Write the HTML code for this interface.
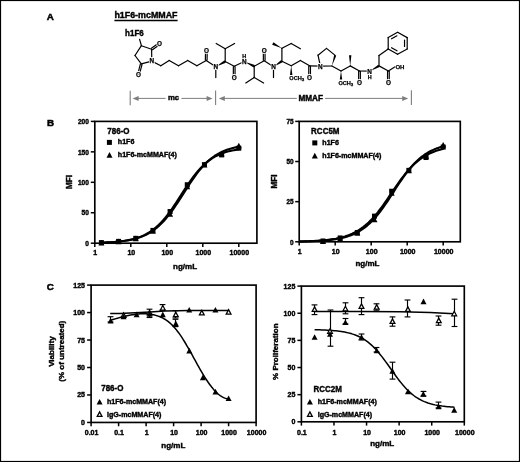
<!DOCTYPE html>
<html><head><meta charset="utf-8"><style>
html,body{margin:0;padding:0;background:#fff;}
svg{display:block;}
text{font-family:'Liberation Sans', Arial, Helvetica, sans-serif;}
</style></head><body>
<svg width="520" height="462" viewBox="0 0 520 462">
<rect x="0.5" y="0.5" width="519" height="461" fill="#fff" stroke="#000" stroke-width="1.2"/>
<text x="46.8" y="19.5" font-size="9.8" text-anchor="start" font-weight="bold" fill="#000" stroke="#000" stroke-width="0.5" >A</text>
<text x="47" y="125.7" font-size="9.8" text-anchor="start" font-weight="bold" fill="#000" stroke="#000" stroke-width="0.5" >B</text>
<text x="46.7" y="289.7" font-size="9.8" text-anchor="start" font-weight="bold" fill="#000" stroke="#000" stroke-width="0.5" >C</text>
<text x="114.4" y="18.2" font-size="8.9" text-anchor="start" font-weight="bold" fill="#000" stroke="#000" stroke-width="0.4" >h1F6-mcMMAF</text>
<line x1="114.4" y1="20.5" x2="177.6" y2="20.5" stroke="#000" stroke-width="1.5" />
<line x1="139.6" y1="39.4" x2="141.4" y2="45.7" stroke="#000" stroke-width="1.2" stroke-linecap="round"/>
<line x1="141.4" y1="45.7" x2="151.6" y2="49.3" stroke="#000" stroke-width="1.2" stroke-linecap="round"/>
<line x1="151.6" y1="49.3" x2="151.8" y2="61.1" stroke="#000" stroke-width="1.2" stroke-linecap="round"/>
<line x1="151.8" y1="61.1" x2="141.3" y2="63.9" stroke="#000" stroke-width="1.2" stroke-linecap="round"/>
<line x1="141.3" y1="63.9" x2="135" y2="55.5" stroke="#000" stroke-width="1.2" stroke-linecap="round"/>
<line x1="135" y1="55.5" x2="141.4" y2="45.7" stroke="#000" stroke-width="1.2" stroke-linecap="round"/>
<line x1="152.1" y1="49.99" x2="160.1" y2="44.19" stroke="#000" stroke-width="1.2" />
<line x1="151.1" y1="48.61" x2="159.1" y2="42.81" stroke="#000" stroke-width="1.2" />
<line x1="140.48" y1="63.69" x2="137.58" y2="74.79" stroke="#000" stroke-width="1.2" />
<line x1="142.12" y1="64.11" x2="139.22" y2="75.21" stroke="#000" stroke-width="1.2" />
<text transform="translate(125.1,35.6) scale(0.94,1)" font-size="8.5" text-anchor="start" font-weight="bold" fill="#000" stroke="#000" stroke-width="0.4" >h1F6</text>
<line x1="151.8" y1="61.1" x2="160.8" y2="65.8" stroke="#000" stroke-width="1.2" stroke-linecap="round"/>
<line x1="160.8" y1="65.8" x2="169.2" y2="60.4" stroke="#000" stroke-width="1.2" stroke-linecap="round"/>
<line x1="169.2" y1="60.4" x2="178.5" y2="65.8" stroke="#000" stroke-width="1.2" stroke-linecap="round"/>
<line x1="178.5" y1="65.8" x2="187.7" y2="60.4" stroke="#000" stroke-width="1.2" stroke-linecap="round"/>
<line x1="187.7" y1="60.4" x2="196.9" y2="65.8" stroke="#000" stroke-width="1.2" stroke-linecap="round"/>
<line x1="196.9" y1="65.8" x2="206.2" y2="60.4" stroke="#000" stroke-width="1.2" stroke-linecap="round"/>
<line x1="207.05" y1="60.42" x2="207.25" y2="50.22" stroke="#000" stroke-width="1.2" />
<line x1="205.35" y1="60.38" x2="205.55" y2="50.18" stroke="#000" stroke-width="1.2" />
<line x1="206.2" y1="60.4" x2="215.8" y2="66.7" stroke="#000" stroke-width="1.2" stroke-linecap="round"/>
<line x1="215.8" y1="66.7" x2="215.8" y2="77.6" stroke="#000" stroke-width="1.2" stroke-linecap="round"/>
<polygon points="215.8,66.7 225.83,62.64 224.57,60.36" fill="#000"/>
<line x1="225.2" y1="61.5" x2="225.2" y2="48.8" stroke="#000" stroke-width="1.2" stroke-linecap="round"/>
<line x1="225.2" y1="48.8" x2="216.2" y2="43.5" stroke="#000" stroke-width="1.2" stroke-linecap="round"/>
<line x1="225.2" y1="48.8" x2="234.6" y2="43.5" stroke="#000" stroke-width="1.2" stroke-linecap="round"/>
<line x1="225.2" y1="61.5" x2="234.2" y2="66.2" stroke="#000" stroke-width="1.2" stroke-linecap="round"/>
<line x1="233.35" y1="66.2" x2="233.35" y2="77.8" stroke="#000" stroke-width="1.2" />
<line x1="235.05" y1="66.2" x2="235.05" y2="77.8" stroke="#000" stroke-width="1.2" />
<line x1="234.2" y1="66.2" x2="244.2" y2="61.5" stroke="#000" stroke-width="1.2" stroke-linecap="round"/>
<polygon points="244.2,61.5 253.65,67.38 254.75,65.02" fill="#000"/>
<line x1="254.2" y1="66.2" x2="254.2" y2="77.5" stroke="#000" stroke-width="1.2" stroke-linecap="round"/>
<line x1="254.2" y1="77.5" x2="245.8" y2="83" stroke="#000" stroke-width="1.2" stroke-linecap="round"/>
<line x1="254.2" y1="77.5" x2="263.6" y2="83" stroke="#000" stroke-width="1.2" stroke-linecap="round"/>
<line x1="254.2" y1="66.2" x2="264.2" y2="60.8" stroke="#000" stroke-width="1.2" stroke-linecap="round"/>
<line x1="265.05" y1="60.8" x2="265.05" y2="50.2" stroke="#000" stroke-width="1.2" />
<line x1="263.35" y1="60.8" x2="263.35" y2="50.2" stroke="#000" stroke-width="1.2" />
<line x1="264.2" y1="60.8" x2="273.5" y2="66.7" stroke="#000" stroke-width="1.2" stroke-linecap="round"/>
<line x1="273.5" y1="66.7" x2="273.5" y2="77.6" stroke="#000" stroke-width="1.2" stroke-linecap="round"/>
<polygon points="273.5,66.7 282.61,62.29 281.19,60.11" fill="#000"/>
<line x1="281.9" y1="61.2" x2="281.9" y2="48.3" stroke="#000" stroke-width="1.2" stroke-linecap="round"/>
<polygon points="281.9,48.3 273.45,42.26 272.15,44.74" fill="#000"/>
<line x1="281.9" y1="48.3" x2="291.2" y2="43.5" stroke="#000" stroke-width="1.2" stroke-linecap="round"/>
<line x1="291.2" y1="43.5" x2="300.4" y2="48.8" stroke="#000" stroke-width="1.2" stroke-linecap="round"/>
<line x1="281.9" y1="61.2" x2="291.2" y2="65.8" stroke="#000" stroke-width="1.2" stroke-linecap="round"/>
<polygon points="291.2,65.8 290,75 292.4,75" fill="#000"/>
<line x1="291.2" y1="65.8" x2="300.4" y2="60.4" stroke="#000" stroke-width="1.2" stroke-linecap="round"/>
<line x1="300.4" y1="60.4" x2="309.6" y2="65.8" stroke="#000" stroke-width="1.2" stroke-linecap="round"/>
<line x1="308.75" y1="65.8" x2="308.75" y2="77.4" stroke="#000" stroke-width="1.2" />
<line x1="310.45" y1="65.8" x2="310.45" y2="77.4" stroke="#000" stroke-width="1.2" />
<line x1="309.6" y1="65.8" x2="320.4" y2="66.2" stroke="#000" stroke-width="1.2" stroke-linecap="round"/>
<line x1="320.4" y1="66.2" x2="318" y2="55.2" stroke="#000" stroke-width="1.2" stroke-linecap="round"/>
<line x1="318" y1="55.2" x2="326.5" y2="48.4" stroke="#000" stroke-width="1.2" stroke-linecap="round"/>
<line x1="326.5" y1="48.4" x2="335.2" y2="55.4" stroke="#000" stroke-width="1.2" stroke-linecap="round"/>
<polygon points="331.9,66 336.25,55.73 334.15,55.07" fill="#000"/>
<line x1="331.9" y1="66" x2="320.4" y2="66.2" stroke="#000" stroke-width="1.2" stroke-linecap="round"/>
<line x1="331.9" y1="66" x2="341" y2="71" stroke="#000" stroke-width="1.2" stroke-linecap="round"/>
<polygon points="341,71 339.8,79.4 342.2,79.4" fill="#000"/>
<line x1="341" y1="71" x2="350.2" y2="65.9" stroke="#000" stroke-width="1.2" stroke-linecap="round"/>
<polygon points="350.2,65.9 351.4,55.2 349,55.2" fill="#000"/>
<line x1="350.2" y1="65.9" x2="359.5" y2="71" stroke="#000" stroke-width="1.2" stroke-linecap="round"/>
<line x1="358.65" y1="71" x2="358.65" y2="83" stroke="#000" stroke-width="1.2" />
<line x1="360.35" y1="71" x2="360.35" y2="83" stroke="#000" stroke-width="1.2" />
<line x1="359.5" y1="71" x2="369.6" y2="71.2" stroke="#000" stroke-width="1.2" stroke-linecap="round"/>
<polygon points="369.6,71.2 379.64,67.03 378.36,64.77" fill="#000"/>
<line x1="379" y1="65.9" x2="379" y2="55.6" stroke="#000" stroke-width="1.2" stroke-linecap="round"/>
<line x1="379" y1="55.6" x2="388.2" y2="48.9" stroke="#000" stroke-width="1.2" stroke-linecap="round"/>
<line x1="388.2" y1="48.9" x2="388.2" y2="37.6" stroke="#000" stroke-width="1.2" stroke-linecap="round"/>
<line x1="388.2" y1="37.6" x2="397.6" y2="32.3" stroke="#000" stroke-width="1.2" stroke-linecap="round"/>
<line x1="397.6" y1="32.3" x2="407.2" y2="37.6" stroke="#000" stroke-width="1.2" stroke-linecap="round"/>
<line x1="407.2" y1="37.6" x2="407.2" y2="48.9" stroke="#000" stroke-width="1.2" stroke-linecap="round"/>
<line x1="407.2" y1="48.9" x2="397.6" y2="54.3" stroke="#000" stroke-width="1.2" stroke-linecap="round"/>
<line x1="397.6" y1="54.3" x2="388.2" y2="48.9" stroke="#000" stroke-width="1.2" stroke-linecap="round"/>
<line x1="391.54" y1="38.81" x2="396.95" y2="35.76" stroke="#000" stroke-width="1.2" stroke-linecap="round"/>
<line x1="404.54" y1="40.01" x2="404.54" y2="46.52" stroke="#000" stroke-width="1.2" stroke-linecap="round"/>
<line x1="396.95" y1="50.83" x2="391.54" y2="47.72" stroke="#000" stroke-width="1.2" stroke-linecap="round"/>
<line x1="379" y1="65.9" x2="388.4" y2="71" stroke="#000" stroke-width="1.2" stroke-linecap="round"/>
<line x1="387.55" y1="71" x2="387.55" y2="83" stroke="#000" stroke-width="1.2" />
<line x1="389.25" y1="71" x2="389.25" y2="83" stroke="#000" stroke-width="1.2" />
<line x1="388.4" y1="71" x2="395.5" y2="66.6" stroke="#000" stroke-width="1.2" stroke-linecap="round"/>
<text x="159.6" y="45.8" font-size="6.4" text-anchor="middle" font-weight="bold" stroke="#fff" stroke-width="1.8" fill="#fff">O</text>
<text x="159.6" y="45.8" font-size="6.4" text-anchor="middle" font-weight="bold" stroke="#000" stroke-width="0.25" fill="#000">O</text>
<text x="138.4" y="77.3" font-size="6.4" text-anchor="middle" font-weight="bold" stroke="#fff" stroke-width="1.8" fill="#fff">O</text>
<text x="138.4" y="77.3" font-size="6.4" text-anchor="middle" font-weight="bold" stroke="#000" stroke-width="0.25" fill="#000">O</text>
<text x="151.8" y="63.4" font-size="6.4" text-anchor="middle" font-weight="bold" stroke="#fff" stroke-width="1.8" fill="#fff">N</text>
<text x="151.8" y="63.4" font-size="6.4" text-anchor="middle" font-weight="bold" stroke="#000" stroke-width="0.25" fill="#000">N</text>
<text x="206.4" y="52.5" font-size="6.4" text-anchor="middle" font-weight="bold" stroke="#fff" stroke-width="1.8" fill="#fff">O</text>
<text x="206.4" y="52.5" font-size="6.4" text-anchor="middle" font-weight="bold" stroke="#000" stroke-width="0.25" fill="#000">O</text>
<text x="215.8" y="69" font-size="6.4" text-anchor="middle" font-weight="bold" stroke="#fff" stroke-width="1.8" fill="#fff">N</text>
<text x="215.8" y="69" font-size="6.4" text-anchor="middle" font-weight="bold" stroke="#000" stroke-width="0.25" fill="#000">N</text>
<text x="234.2" y="80.1" font-size="6.4" text-anchor="middle" font-weight="bold" stroke="#fff" stroke-width="1.8" fill="#fff">O</text>
<text x="234.2" y="80.1" font-size="6.4" text-anchor="middle" font-weight="bold" stroke="#000" stroke-width="0.25" fill="#000">O</text>
<text x="244.2" y="63.8" font-size="6.4" text-anchor="middle" font-weight="bold" stroke="#fff" stroke-width="1.8" fill="#fff">N</text>
<text x="244.2" y="63.8" font-size="6.4" text-anchor="middle" font-weight="bold" stroke="#000" stroke-width="0.25" fill="#000">N</text>
<text x="244.2" y="58.14" font-size="5.4" text-anchor="middle" font-weight="bold" stroke="#fff" stroke-width="1.8" fill="#fff">H</text>
<text x="244.2" y="58.14" font-size="5.4" text-anchor="middle" font-weight="bold" stroke="#000" stroke-width="0.25" fill="#000">H</text>
<text x="264.2" y="52.5" font-size="6.4" text-anchor="middle" font-weight="bold" stroke="#fff" stroke-width="1.8" fill="#fff">O</text>
<text x="264.2" y="52.5" font-size="6.4" text-anchor="middle" font-weight="bold" stroke="#000" stroke-width="0.25" fill="#000">O</text>
<text x="273.5" y="69" font-size="6.4" text-anchor="middle" font-weight="bold" stroke="#fff" stroke-width="1.8" fill="#fff">N</text>
<text x="273.5" y="69" font-size="6.4" text-anchor="middle" font-weight="bold" stroke="#000" stroke-width="0.25" fill="#000">N</text>
<text x="309.6" y="79.7" font-size="6.4" text-anchor="middle" font-weight="bold" stroke="#fff" stroke-width="1.8" fill="#fff">O</text>
<text x="309.6" y="79.7" font-size="6.4" text-anchor="middle" font-weight="bold" stroke="#000" stroke-width="0.25" fill="#000">O</text>
<text x="320.4" y="68.5" font-size="6.4" text-anchor="middle" font-weight="bold" stroke="#fff" stroke-width="1.8" fill="#fff">N</text>
<text x="320.4" y="68.5" font-size="6.4" text-anchor="middle" font-weight="bold" stroke="#000" stroke-width="0.25" fill="#000">N</text>
<text x="359.5" y="85.3" font-size="6.4" text-anchor="middle" font-weight="bold" stroke="#fff" stroke-width="1.8" fill="#fff">O</text>
<text x="359.5" y="85.3" font-size="6.4" text-anchor="middle" font-weight="bold" stroke="#000" stroke-width="0.25" fill="#000">O</text>
<text x="369.6" y="73.5" font-size="6.4" text-anchor="middle" font-weight="bold" stroke="#fff" stroke-width="1.8" fill="#fff">N</text>
<text x="369.6" y="73.5" font-size="6.4" text-anchor="middle" font-weight="bold" stroke="#000" stroke-width="0.25" fill="#000">N</text>
<text x="369.6" y="78.54" font-size="5.4" text-anchor="middle" font-weight="bold" stroke="#fff" stroke-width="1.8" fill="#fff">H</text>
<text x="369.6" y="78.54" font-size="5.4" text-anchor="middle" font-weight="bold" stroke="#000" stroke-width="0.25" fill="#000">H</text>
<text x="388.4" y="85.3" font-size="6.4" text-anchor="middle" font-weight="bold" stroke="#fff" stroke-width="1.8" fill="#fff">O</text>
<text x="388.4" y="85.3" font-size="6.4" text-anchor="middle" font-weight="bold" stroke="#000" stroke-width="0.25" fill="#000">O</text>
<text x="395.4" y="68.6" font-size="6.0" font-weight="bold" stroke="#fff" stroke-width="1.8" fill="#fff">OH</text>
<text x="395.4" y="68.6" font-size="6.0" font-weight="bold" stroke="#000" stroke-width="0.25" fill="#000">OH</text>
<text x="289.3" y="80.0" font-size="5.6" font-weight="bold" stroke="#fff" stroke-width="1.8" fill="#fff">OCH<tspan font-size="4.4" dy="1.0">3</tspan></text>
<text x="289.3" y="80.0" font-size="5.6" font-weight="bold" stroke="#000" stroke-width="0.25" fill="#000">OCH<tspan font-size="4.4" dy="1.0">3</tspan></text>
<text x="338.4" y="85.4" font-size="5.6" font-weight="bold" stroke="#fff" stroke-width="1.8" fill="#fff">OCH<tspan font-size="4.4" dy="1.0">3</tspan></text>
<text x="338.4" y="85.4" font-size="5.6" font-weight="bold" stroke="#000" stroke-width="0.25" fill="#000">OCH<tspan font-size="4.4" dy="1.0">3</tspan></text>
<line x1="130.2" y1="90.8" x2="130.2" y2="105.2" stroke="#7e7e7e" stroke-width="1.1" />
<line x1="215.6" y1="90.6" x2="215.6" y2="104.9" stroke="#7e7e7e" stroke-width="1.1" />
<line x1="411.4" y1="90.3" x2="411.4" y2="105" stroke="#7e7e7e" stroke-width="1.1" />
<polygon points="132.6,98.4 138.6,95.9 138.6,100.9" fill="#7e7e7e"/>
<line x1="137" y1="98.4" x2="165.6" y2="98.4" stroke="#7e7e7e" stroke-width="1.0" />
<text x="167.9" y="100.4" font-size="7.8" text-anchor="start" font-weight="bold" fill="#000" stroke="#000" stroke-width="0.4" >mc</text>
<line x1="181.4" y1="98.4" x2="207" y2="98.4" stroke="#7e7e7e" stroke-width="1.0" />
<polygon points="212.6,98.4 206.6,95.9 206.6,100.9" fill="#7e7e7e"/>
<polygon points="218.8,98.4 224.8,95.9 224.8,100.9" fill="#7e7e7e"/>
<line x1="223" y1="98.4" x2="296.8" y2="98.4" stroke="#7e7e7e" stroke-width="1.0" />
<text x="298.4" y="100.6" font-size="8.2" text-anchor="start" font-weight="bold" fill="#000" stroke="#000" stroke-width="0.4" >MMAF</text>
<line x1="325" y1="98.4" x2="403" y2="98.4" stroke="#7e7e7e" stroke-width="1.0" />
<polygon points="408.2,98.4 402.2,95.9 402.2,100.9" fill="#7e7e7e"/>
<rect x="94.8" y="121.4" width="162.1" height="121.8" fill="none" stroke="#000" stroke-width="1.65"/>
<line x1="90.8" y1="243.2" x2="94.8" y2="243.2" stroke="#000" stroke-width="1.5" />
<text transform="translate(88.9,245.9) scale(0.94,1)" font-size="7.0" text-anchor="end" font-weight="bold" fill="#000" stroke="#000" stroke-width="0.4" >0</text>
<line x1="90.8" y1="212.75" x2="94.8" y2="212.75" stroke="#000" stroke-width="1.5" />
<text transform="translate(88.9,215.45) scale(0.94,1)" font-size="7.0" text-anchor="end" font-weight="bold" fill="#000" stroke="#000" stroke-width="0.4" >50</text>
<line x1="90.8" y1="182.3" x2="94.8" y2="182.3" stroke="#000" stroke-width="1.5" />
<text transform="translate(88.9,185) scale(0.94,1)" font-size="7.0" text-anchor="end" font-weight="bold" fill="#000" stroke="#000" stroke-width="0.4" >100</text>
<line x1="90.8" y1="151.85" x2="94.8" y2="151.85" stroke="#000" stroke-width="1.5" />
<text transform="translate(88.9,154.55) scale(0.94,1)" font-size="7.0" text-anchor="end" font-weight="bold" fill="#000" stroke="#000" stroke-width="0.4" >150</text>
<line x1="90.8" y1="121.4" x2="94.8" y2="121.4" stroke="#000" stroke-width="1.5" />
<text transform="translate(88.9,124.1) scale(0.94,1)" font-size="7.0" text-anchor="end" font-weight="bold" fill="#000" stroke="#000" stroke-width="0.4" >200</text>
<line x1="94.8" y1="243.2" x2="94.8" y2="247" stroke="#000" stroke-width="1.5" />
<text x="95.3" y="255.3" font-size="7.0" text-anchor="middle" font-weight="bold" fill="#000" stroke="#000" stroke-width="0.4" >1</text>
<line x1="130.8" y1="243.2" x2="130.8" y2="247" stroke="#000" stroke-width="1.5" />
<text x="131.3" y="255.3" font-size="7.0" text-anchor="middle" font-weight="bold" fill="#000" stroke="#000" stroke-width="0.4" >10</text>
<line x1="166.8" y1="243.2" x2="166.8" y2="247" stroke="#000" stroke-width="1.5" />
<text x="167.3" y="255.3" font-size="7.0" text-anchor="middle" font-weight="bold" fill="#000" stroke="#000" stroke-width="0.4" >100</text>
<line x1="202.8" y1="243.2" x2="202.8" y2="247" stroke="#000" stroke-width="1.5" />
<text x="203.3" y="255.3" font-size="7.0" text-anchor="middle" font-weight="bold" fill="#000" stroke="#000" stroke-width="0.4" >1000</text>
<line x1="238.8" y1="243.2" x2="238.8" y2="247" stroke="#000" stroke-width="1.5" />
<text x="239.3" y="255.3" font-size="7.0" text-anchor="middle" font-weight="bold" fill="#000" stroke="#000" stroke-width="0.4" >10000</text>
<text x="185.1" y="268.6" font-size="8.0" text-anchor="middle" font-weight="bold" fill="#000" stroke="#000" stroke-width="0.4" >ng/mL</text>
<text transform="translate(72.2,182) rotate(-90)" font-size="8.2" text-anchor="middle" font-weight="bold" stroke="#000" stroke-width="0.4">MFI</text>
<polyline points="100.31,242.69 102.07,242.63 103.82,242.56 105.58,242.49 107.34,242.4 109.1,242.31 110.85,242.2 112.61,242.08 114.37,241.95 116.13,241.8 117.89,241.63 119.64,241.44 121.4,241.24 123.16,241 124.92,240.75 126.67,240.46 128.43,240.14 130.19,239.78 131.95,239.38 133.7,238.94 135.46,238.45 137.22,237.91 138.98,237.31 140.73,236.64 142.49,235.91 144.25,235.1 146.01,234.22 147.76,233.24 149.52,232.18 151.28,231.01 153.04,229.74 154.79,228.37 156.55,226.88 158.31,225.27 160.07,223.55 161.83,221.7 163.58,219.74 165.34,217.66 167.1,215.46 168.86,213.15 170.61,210.75 172.37,208.25 174.13,205.68 175.89,203.04 177.64,200.35 179.4,197.62 181.16,194.88 182.92,192.15 184.67,189.43 186.43,186.75 188.19,184.12 189.95,181.56 191.7,179.09 193.46,176.7 195.22,174.42 196.98,172.25 198.74,170.19 200.49,168.25 202.25,166.43 204.01,164.74 205.77,163.16 207.52,161.69 209.28,160.34 211.04,159.1 212.8,157.95 214.55,156.91 216.31,155.95 218.07,155.09 219.83,154.3 221.58,153.58 223.34,152.93 225.1,152.34 226.86,151.81 228.61,151.33 230.37,150.9 232.13,150.51 233.89,150.16 235.64,149.85 237.4,149.57 239.16,149.32" fill="none" stroke="#000" stroke-width="2.1" stroke-linejoin="round" />
<polyline points="100.31,242.69 102.07,242.63 103.82,242.56 105.58,242.49 107.34,242.41 109.1,242.31 110.85,242.21 112.61,242.1 114.37,241.97 116.13,241.82 117.89,241.67 119.64,241.49 121.4,241.29 123.16,241.07 124.92,240.82 126.67,240.55 128.43,240.25 130.19,239.91 131.95,239.54 133.7,239.13 135.46,238.67 137.22,238.16 138.98,237.6 140.73,236.98 142.49,236.3 144.25,235.55 146.01,234.73 147.76,233.82 149.52,232.84 151.28,231.76 153.04,230.58 154.79,229.3 156.55,227.91 158.31,226.42 160.07,224.81 161.83,223.08 163.58,221.23 165.34,219.27 167.1,217.19 168.86,214.99 170.61,212.69 172.37,210.29 174.13,207.79 175.89,205.21 177.64,202.57 179.4,199.87 181.16,197.13 182.92,194.37 184.67,191.61 186.43,188.85 188.19,186.13 189.95,183.45 191.7,180.83 193.46,178.28 195.22,175.82 196.98,173.45 198.74,171.19 200.49,169.04 202.25,167 204.01,165.08 205.77,163.28 207.52,161.6 209.28,160.03 211.04,158.58 212.8,157.24 214.55,156 216.31,154.86 218.07,153.81 219.83,152.86 221.58,151.98 223.34,151.19 225.1,150.47 226.86,149.81 228.61,149.21 230.37,148.67 232.13,148.19 233.89,147.75 235.64,147.35 237.4,146.99 239.16,146.67" fill="none" stroke="#000" stroke-width="2.1" stroke-linejoin="round" />
<rect x="98.89" y="240.09" width="5" height="5" fill="#000"/>
<rect x="116.07" y="238.87" width="5" height="5" fill="#000"/>
<rect x="133.24" y="235.83" width="5" height="5" fill="#000"/>
<rect x="150.42" y="227.91" width="5" height="5" fill="#000"/>
<rect x="167.59" y="209.03" width="5" height="5" fill="#000"/>
<rect x="184.77" y="182.24" width="5" height="5" fill="#000"/>
<rect x="201.95" y="162.14" width="5" height="5" fill="#000"/>
<rect x="219.12" y="152.4" width="5" height="5" fill="#000"/>
<rect x="236.3" y="145.7" width="5" height="5" fill="#000"/>
<polygon points="98.39,245.39 104.39,245.39 101.39,239.79" fill="#000"/>
<polygon points="115.57,244.17 121.57,244.17 118.57,238.57" fill="#000"/>
<polygon points="132.74,241.13 138.74,241.13 135.74,235.53" fill="#000"/>
<polygon points="149.92,233.82 155.92,233.82 152.92,228.22" fill="#000"/>
<polygon points="167.09,216.77 173.09,216.77 170.09,211.17" fill="#000"/>
<polygon points="184.27,189.36 190.27,189.36 187.27,183.76" fill="#000"/>
<polygon points="201.45,167.44 207.45,167.44 204.45,161.84" fill="#000"/>
<polygon points="218.62,156.48 224.62,156.48 221.62,150.88" fill="#000"/>
<polygon points="235.8,148.26 241.8,148.26 238.8,142.66" fill="#000"/>
<text transform="translate(107.3,134.2) scale(0.93,1)" font-size="8.6" text-anchor="start" font-weight="bold" fill="#000" stroke="#000" stroke-width="0.4" >786-O</text>
<rect x="106.9" y="139.9" width="5" height="5" fill="#000"/>
<text x="117.8" y="144.2" font-size="7.1" text-anchor="start" font-weight="bold" fill="#000" stroke="#000" stroke-width="0.4" >h1F6</text>
<polygon points="106.5,157.7 112.5,157.7 109.5,152.1" fill="#000"/>
<text x="117.8" y="157.2" font-size="7.1" text-anchor="start" font-weight="bold" fill="#000" stroke="#000" stroke-width="0.4" >h1F6-mcMMAF(4)</text>
<rect x="299.2" y="121.4" width="161.1" height="120.4" fill="none" stroke="#000" stroke-width="1.65"/>
<line x1="295.2" y1="241.8" x2="299.2" y2="241.8" stroke="#000" stroke-width="1.5" />
<text transform="translate(293.6,244.5) scale(0.92,1)" font-size="7.0" text-anchor="end" font-weight="bold" fill="#000" stroke="#000" stroke-width="0.4" >0</text>
<line x1="295.2" y1="201.67" x2="299.2" y2="201.67" stroke="#000" stroke-width="1.5" />
<text transform="translate(293.6,204.37) scale(0.92,1)" font-size="7.0" text-anchor="end" font-weight="bold" fill="#000" stroke="#000" stroke-width="0.4" >25</text>
<line x1="295.2" y1="161.53" x2="299.2" y2="161.53" stroke="#000" stroke-width="1.5" />
<text transform="translate(293.6,164.23) scale(0.92,1)" font-size="7.0" text-anchor="end" font-weight="bold" fill="#000" stroke="#000" stroke-width="0.4" >50</text>
<line x1="295.2" y1="121.4" x2="299.2" y2="121.4" stroke="#000" stroke-width="1.5" />
<text transform="translate(293.6,124.1) scale(0.92,1)" font-size="7.0" text-anchor="end" font-weight="bold" fill="#000" stroke="#000" stroke-width="0.4" >75</text>
<line x1="299.2" y1="241.8" x2="299.2" y2="245.6" stroke="#000" stroke-width="1.5" />
<text x="299.7" y="254.3" font-size="7.0" text-anchor="middle" font-weight="bold" fill="#000" stroke="#000" stroke-width="0.4" >1</text>
<line x1="335.2" y1="241.8" x2="335.2" y2="245.6" stroke="#000" stroke-width="1.5" />
<text x="335.7" y="254.3" font-size="7.0" text-anchor="middle" font-weight="bold" fill="#000" stroke="#000" stroke-width="0.4" >10</text>
<line x1="371.2" y1="241.8" x2="371.2" y2="245.6" stroke="#000" stroke-width="1.5" />
<text x="371.7" y="254.3" font-size="7.0" text-anchor="middle" font-weight="bold" fill="#000" stroke="#000" stroke-width="0.4" >100</text>
<line x1="407.2" y1="241.8" x2="407.2" y2="245.6" stroke="#000" stroke-width="1.5" />
<text x="407.7" y="254.3" font-size="7.0" text-anchor="middle" font-weight="bold" fill="#000" stroke="#000" stroke-width="0.4" >1000</text>
<line x1="443.2" y1="241.8" x2="443.2" y2="245.6" stroke="#000" stroke-width="1.5" />
<text x="443.7" y="254.3" font-size="7.0" text-anchor="middle" font-weight="bold" fill="#000" stroke="#000" stroke-width="0.4" >10000</text>
<text x="367.4" y="265.7" font-size="8.0" text-anchor="middle" font-weight="bold" fill="#000" stroke="#000" stroke-width="0.4" >ng/mL</text>
<text transform="translate(276.8,181.5) rotate(-90)" font-size="8.2" text-anchor="middle" font-weight="bold" stroke="#000" stroke-width="0.4">MFI</text>
<polyline points="299.2,241.45 301.03,241.41 302.85,241.37 304.68,241.32 306.51,241.26 308.34,241.2 310.16,241.13 311.99,241.05 313.82,240.96 315.65,240.86 317.47,240.75 319.3,240.63 321.13,240.49 322.96,240.34 324.78,240.17 326.61,239.98 328.44,239.77 330.26,239.53 332.09,239.27 333.92,238.98 335.75,238.66 337.57,238.3 339.4,237.9 341.23,237.46 343.06,236.98 344.88,236.44 346.71,235.85 348.54,235.19 350.37,234.47 352.19,233.67 354.02,232.8 355.85,231.85 357.67,230.8 359.5,229.67 361.33,228.43 363.16,227.09 364.98,225.64 366.81,224.08 368.64,222.41 370.47,220.62 372.29,218.71 374.12,216.69 375.95,214.56 377.78,212.32 379.6,209.98 381.43,207.55 383.26,205.04 385.09,202.46 386.91,199.83 388.74,197.16 390.57,194.46 392.39,191.76 394.22,189.07 396.05,186.41 397.88,183.79 399.7,181.22 401.53,178.73 403.36,176.32 405.19,174 407.01,171.79 408.84,169.68 410.67,167.69 412.5,165.81 414.32,164.04 416.15,162.39 417.98,160.86 419.8,159.44 421.63,158.12 423.46,156.91 425.29,155.79 427.11,154.77 428.94,153.84 430.77,152.98 432.6,152.21 434.42,151.5 436.25,150.86 438.08,150.28 439.91,149.75 441.73,149.28 443.56,148.85" fill="none" stroke="#000" stroke-width="2.1" stroke-linejoin="round" />
<polyline points="299.2,241.52 301.03,241.48 302.85,241.45 304.68,241.4 306.51,241.36 308.34,241.3 310.16,241.24 311.99,241.18 313.82,241.1 315.65,241.02 317.47,240.93 319.3,240.82 321.13,240.71 322.96,240.58 324.78,240.43 326.61,240.27 328.44,240.09 330.26,239.89 332.09,239.66 333.92,239.41 335.75,239.13 337.57,238.82 339.4,238.47 341.23,238.09 343.06,237.66 344.88,237.18 346.71,236.65 348.54,236.07 350.37,235.43 352.19,234.71 354.02,233.93 355.85,233.06 357.67,232.11 359.5,231.07 361.33,229.94 363.16,228.7 364.98,227.35 366.81,225.89 368.64,224.31 370.47,222.61 372.29,220.79 374.12,218.84 375.95,216.77 377.78,214.58 379.6,212.28 381.43,209.86 383.26,207.35 385.09,204.74 386.91,202.06 388.74,199.31 390.57,196.52 392.39,193.7 394.22,190.87 396.05,188.04 397.88,185.24 399.7,182.49 401.53,179.79 403.36,177.16 405.19,174.62 407.01,172.18 408.84,169.85 410.67,167.63 412.5,165.53 414.32,163.55 416.15,161.7 417.98,159.96 419.8,158.36 421.63,156.87 423.46,155.49 425.29,154.22 427.11,153.06 428.94,152 430.77,151.02 432.6,150.14 434.42,149.34 436.25,148.6 438.08,147.94 439.91,147.34 441.73,146.8 443.56,146.32" fill="none" stroke="#000" stroke-width="2.1" stroke-linejoin="round" />
<rect x="320.47" y="238.5" width="5" height="5" fill="#000"/>
<rect x="337.64" y="235.45" width="5" height="5" fill="#000"/>
<rect x="354.82" y="229.99" width="5" height="5" fill="#000"/>
<rect x="371.99" y="213.61" width="5" height="5" fill="#000"/>
<rect x="389.17" y="188.73" width="5" height="5" fill="#000"/>
<rect x="406.35" y="167.86" width="5" height="5" fill="#000"/>
<rect x="423.52" y="155.02" width="5" height="5" fill="#000"/>
<rect x="440.7" y="144.59" width="5" height="5" fill="#000"/>
<polygon points="319.97,244.12 325.97,244.12 322.97,238.52" fill="#000"/>
<polygon points="337.14,241.39 343.14,241.39 340.14,235.79" fill="#000"/>
<polygon points="354.32,235.77 360.32,235.77 357.32,230.17" fill="#000"/>
<polygon points="371.49,222.13 377.49,222.13 374.49,216.53" fill="#000"/>
<polygon points="388.67,195.64 394.67,195.64 391.67,190.04" fill="#000"/>
<polygon points="405.85,173.16 411.85,173.16 408.85,167.56" fill="#000"/>
<polygon points="423.02,158.71 429.02,158.71 426.02,153.11" fill="#000"/>
<polygon points="440.2,147.48 446.2,147.48 443.2,141.88" fill="#000"/>
<text transform="translate(311.1,134.3) scale(0.93,1)" font-size="8.6" text-anchor="start" font-weight="bold" fill="#000" stroke="#000" stroke-width="0.4" >RCC5M</text>
<rect x="312.3" y="140.4" width="5" height="5" fill="#000"/>
<text x="322.3" y="144.8" font-size="7.1" text-anchor="start" font-weight="bold" fill="#000" stroke="#000" stroke-width="0.4" >h1F6</text>
<polygon points="311.8,158.4 317.8,158.4 314.8,152.8" fill="#000"/>
<text x="322.3" y="157.7" font-size="7.1" text-anchor="start" font-weight="bold" fill="#000" stroke="#000" stroke-width="0.4" >h1F6-mcMMAF(4)</text>
<rect x="91.1" y="285.1" width="165" height="137.35" fill="none" stroke="#000" stroke-width="1.65"/>
<line x1="87.1" y1="422.45" x2="91.1" y2="422.45" stroke="#000" stroke-width="1.5" />
<text x="85" y="424.95" font-size="7.0" text-anchor="end" font-weight="bold" fill="#000" stroke="#000" stroke-width="0.4" >0</text>
<line x1="87.1" y1="394.98" x2="91.1" y2="394.98" stroke="#000" stroke-width="1.5" />
<text x="85" y="397.48" font-size="7.0" text-anchor="end" font-weight="bold" fill="#000" stroke="#000" stroke-width="0.4" >25</text>
<line x1="87.1" y1="367.51" x2="91.1" y2="367.51" stroke="#000" stroke-width="1.5" />
<text x="85" y="370.01" font-size="7.0" text-anchor="end" font-weight="bold" fill="#000" stroke="#000" stroke-width="0.4" >50</text>
<line x1="87.1" y1="340.04" x2="91.1" y2="340.04" stroke="#000" stroke-width="1.5" />
<text x="85" y="342.54" font-size="7.0" text-anchor="end" font-weight="bold" fill="#000" stroke="#000" stroke-width="0.4" >75</text>
<line x1="87.1" y1="312.57" x2="91.1" y2="312.57" stroke="#000" stroke-width="1.5" />
<text x="85" y="315.07" font-size="7.0" text-anchor="end" font-weight="bold" fill="#000" stroke="#000" stroke-width="0.4" >100</text>
<line x1="87.1" y1="285.1" x2="91.1" y2="285.1" stroke="#000" stroke-width="1.5" />
<text x="85" y="287.6" font-size="7.0" text-anchor="end" font-weight="bold" fill="#000" stroke="#000" stroke-width="0.4" >125</text>
<line x1="91.1" y1="422.45" x2="91.1" y2="426.25" stroke="#000" stroke-width="1.5" />
<text x="91.6" y="435.15" font-size="7.0" text-anchor="middle" font-weight="bold" fill="#000" stroke="#000" stroke-width="0.4" >0.01</text>
<line x1="118.6" y1="422.45" x2="118.6" y2="426.25" stroke="#000" stroke-width="1.5" />
<text x="119.1" y="435.15" font-size="7.0" text-anchor="middle" font-weight="bold" fill="#000" stroke="#000" stroke-width="0.4" >0.1</text>
<line x1="146.1" y1="422.45" x2="146.1" y2="426.25" stroke="#000" stroke-width="1.5" />
<text x="146.6" y="435.15" font-size="7.0" text-anchor="middle" font-weight="bold" fill="#000" stroke="#000" stroke-width="0.4" >1</text>
<line x1="173.6" y1="422.45" x2="173.6" y2="426.25" stroke="#000" stroke-width="1.5" />
<text x="174.1" y="435.15" font-size="7.0" text-anchor="middle" font-weight="bold" fill="#000" stroke="#000" stroke-width="0.4" >10</text>
<line x1="201.1" y1="422.45" x2="201.1" y2="426.25" stroke="#000" stroke-width="1.5" />
<text x="201.6" y="435.15" font-size="7.0" text-anchor="middle" font-weight="bold" fill="#000" stroke="#000" stroke-width="0.4" >100</text>
<line x1="228.6" y1="422.45" x2="228.6" y2="426.25" stroke="#000" stroke-width="1.5" />
<text x="229.1" y="435.15" font-size="7.0" text-anchor="middle" font-weight="bold" fill="#000" stroke="#000" stroke-width="0.4" >1000</text>
<line x1="256.1" y1="422.45" x2="256.1" y2="426.25" stroke="#000" stroke-width="1.5" />
<text x="256.6" y="435.15" font-size="7.0" text-anchor="middle" font-weight="bold" fill="#000" stroke="#000" stroke-width="0.4" >10000</text>
<text x="173.3" y="447.6" font-size="8.0" text-anchor="middle" font-weight="bold" fill="#000" stroke="#000" stroke-width="0.4" >ng/mL</text>
<text transform="translate(54.0,351.6) rotate(-90)" font-size="8.0" text-anchor="middle" font-weight="bold" stroke="#000" stroke-width="0.4">Viability</text>
<text transform="translate(63.6,351.2) rotate(-90)" font-size="8.0" text-anchor="middle" font-weight="bold" stroke="#000" stroke-width="0.4">(% of untreated)</text>
<polyline points="110.2,313.5 120,313.4 130,313 140,312.5 150,311.9 165,311.1 178,310.8 188,310.6 228.6,310.4" fill="none" stroke="#000" stroke-width="1.5" stroke-linejoin="round" />
<polyline points="110.4,320.26 111.59,319.91 112.79,319.57 113.98,319.23 115.18,318.89 116.37,318.55 117.56,318.21 118.76,317.88 119.95,317.56 121.15,317.24 122.34,316.93 123.53,316.63 124.73,316.34 125.92,316.06 127.12,315.79 128.31,315.53 129.5,315.29 130.7,315.06 131.89,314.85 133.08,314.65 134.28,314.47 135.47,314.31 136.67,314.17 137.86,314.05 139.05,313.95 140.25,313.87 141.44,313.82 142.64,313.79 143.83,313.79 145.02,313.81 146.22,313.86 147.41,313.94 148.61,314.04 149.8,314.18 150.99,314.35 152.19,314.55 153.38,314.79 154.58,315.06 155.77,315.36 156.96,315.7 158.16,316.09 159.35,316.52 160.55,317 161.74,317.53 162.93,318.12 164.13,318.77 165.32,319.49 166.52,320.27 167.71,321.13 168.9,322.07 170.1,323.09 171.29,324.19 172.48,325.37 173.68,326.64 174.87,327.98 176.07,329.41 177.26,330.92 178.45,332.5 179.65,334.16 180.84,335.9 182.04,337.71 183.23,339.58 184.42,341.51 185.62,343.5 186.81,345.53 188.01,347.6 189.2,349.7 190.39,351.83 191.59,353.98 192.78,356.14 193.98,358.31 195.17,360.48 196.36,362.64 197.56,364.79 198.75,366.92 199.95,369.03 201.14,371.1 202.33,373.13 203.53,375.12 204.72,377.06 205.92,378.93 207.11,380.75 208.3,382.51 209.5,384.19 210.69,385.8 211.88,387.34 213.08,388.8 214.27,390.17 215.47,391.46 216.66,392.65 217.85,393.75 219.05,394.75 220.24,395.64 221.44,396.43 222.63,397.11 223.82,397.68 225.02,398.12 226.21,398.44 227.41,398.64 228.6,398.71" fill="none" stroke="#000" stroke-width="1.5" stroke-linejoin="round" />
<line x1="110.5" y1="316.7" x2="110.5" y2="322" stroke="#000" stroke-width="1.15" />
<line x1="107.6" y1="316.7" x2="113.4" y2="316.7" stroke="#000" stroke-width="1.15" />
<line x1="107.6" y1="322" x2="113.4" y2="322" stroke="#000" stroke-width="1.15" />
<line x1="149.5" y1="309.2" x2="149.5" y2="317.5" stroke="#000" stroke-width="1.15" />
<line x1="146.6" y1="309.2" x2="152.4" y2="309.2" stroke="#000" stroke-width="1.15" />
<line x1="146.6" y1="317.5" x2="152.4" y2="317.5" stroke="#000" stroke-width="1.15" />
<line x1="162.5" y1="304.6" x2="162.5" y2="310" stroke="#000" stroke-width="1.15" />
<line x1="159.6" y1="304.6" x2="165.4" y2="304.6" stroke="#000" stroke-width="1.15" />
<line x1="159.6" y1="310" x2="165.4" y2="310" stroke="#000" stroke-width="1.15" />
<line x1="175.5" y1="310.6" x2="175.5" y2="318" stroke="#000" stroke-width="1.15" />
<line x1="172.6" y1="310.6" x2="178.4" y2="310.6" stroke="#000" stroke-width="1.15" />
<line x1="172.6" y1="318" x2="178.4" y2="318" stroke="#000" stroke-width="1.15" />
<line x1="175.5" y1="319.3" x2="175.5" y2="326.6" stroke="#000" stroke-width="1.15" />
<line x1="172.6" y1="319.3" x2="178.4" y2="319.3" stroke="#000" stroke-width="1.15" />
<line x1="172.6" y1="326.6" x2="178.4" y2="326.6" stroke="#000" stroke-width="1.15" />
<polygon points="121.2,317.25 126,317.25 123.6,312.75" fill="#fff" stroke="#000" stroke-width="1.25" stroke-linejoin="miter"/>
<polygon points="147.2,314.85 152,314.85 149.6,310.35" fill="#fff" stroke="#000" stroke-width="1.25" stroke-linejoin="miter"/>
<polygon points="160.4,310.05 165.2,310.05 162.8,305.55" fill="#fff" stroke="#000" stroke-width="1.25" stroke-linejoin="miter"/>
<polygon points="173.4,316.65 178.2,316.65 175.8,312.15" fill="#fff" stroke="#000" stroke-width="1.25" stroke-linejoin="miter"/>
<polygon points="199.4,314.95 204.2,314.95 201.8,310.45" fill="#fff" stroke="#000" stroke-width="1.25" stroke-linejoin="miter"/>
<polygon points="226.2,314.15 231,314.15 228.6,309.65" fill="#fff" stroke="#000" stroke-width="1.25" stroke-linejoin="miter"/>
<polygon points="107.6,323.4 113.6,323.4 110.6,317.8" fill="#000"/>
<polygon points="120.6,319.3 126.6,319.3 123.6,313.7" fill="#000"/>
<polygon points="133.6,317.2 139.6,317.2 136.6,311.6" fill="#000"/>
<polygon points="146.6,316.8 152.6,316.8 149.6,311.2" fill="#000"/>
<polygon points="159.8,317.2 165.8,317.2 162.8,311.6" fill="#000"/>
<polygon points="172.8,326.2 178.8,326.2 175.8,320.6" fill="#000"/>
<polygon points="186.3,353.4 192.3,353.4 189.3,347.8" fill="#000"/>
<polygon points="199.9,380.2 205.9,380.2 202.9,374.6" fill="#000"/>
<polygon points="212.5,394.4 218.5,394.4 215.5,388.8" fill="#000"/>
<polygon points="225.6,401 231.6,401 228.6,395.4" fill="#000"/>
<polygon points="186.2,312.6 192.2,312.6 189.2,307" fill="#000"/>
<polygon points="212.4,312.6 218.4,312.6 215.4,307" fill="#000"/>
<text transform="translate(101.2,391.1) scale(0.93,1)" font-size="8.6" text-anchor="start" font-weight="bold" fill="#000" stroke="#000" stroke-width="0.4" >786-O</text>
<polygon points="96.6,404.6 102.6,404.6 99.6,399" fill="#000"/>
<text x="107" y="404.1" font-size="7.1" text-anchor="start" font-weight="bold" fill="#000" stroke="#000" stroke-width="0.4" >h1F6-mcMMAF(4)</text>
<polygon points="97.2,416.45 102,416.45 99.6,411.95" fill="#fff" stroke="#000" stroke-width="1.25" stroke-linejoin="miter"/>
<text x="107" y="416.6" font-size="7.1" text-anchor="start" font-weight="bold" fill="#000" stroke="#000" stroke-width="0.4" >IgG-mcMMAF(4)</text>
<rect x="301.4" y="286.1" width="162.9" height="135.7" fill="none" stroke="#000" stroke-width="1.65"/>
<line x1="297.4" y1="421.8" x2="301.4" y2="421.8" stroke="#000" stroke-width="1.5" />
<text x="295.3" y="424.4" font-size="7.0" text-anchor="end" font-weight="bold" fill="#000" stroke="#000" stroke-width="0.4" >0</text>
<line x1="297.4" y1="394.66" x2="301.4" y2="394.66" stroke="#000" stroke-width="1.5" />
<text x="295.3" y="397.26" font-size="7.0" text-anchor="end" font-weight="bold" fill="#000" stroke="#000" stroke-width="0.4" >25</text>
<line x1="297.4" y1="367.52" x2="301.4" y2="367.52" stroke="#000" stroke-width="1.5" />
<text x="295.3" y="370.12" font-size="7.0" text-anchor="end" font-weight="bold" fill="#000" stroke="#000" stroke-width="0.4" >50</text>
<line x1="297.4" y1="340.38" x2="301.4" y2="340.38" stroke="#000" stroke-width="1.5" />
<text x="295.3" y="342.98" font-size="7.0" text-anchor="end" font-weight="bold" fill="#000" stroke="#000" stroke-width="0.4" >75</text>
<line x1="297.4" y1="313.24" x2="301.4" y2="313.24" stroke="#000" stroke-width="1.5" />
<text x="295.3" y="315.84" font-size="7.0" text-anchor="end" font-weight="bold" fill="#000" stroke="#000" stroke-width="0.4" >100</text>
<line x1="297.4" y1="286.1" x2="301.4" y2="286.1" stroke="#000" stroke-width="1.5" />
<text x="295.3" y="288.7" font-size="7.0" text-anchor="end" font-weight="bold" fill="#000" stroke="#000" stroke-width="0.4" >125</text>
<line x1="301.4" y1="421.8" x2="301.4" y2="425.6" stroke="#000" stroke-width="1.5" />
<text x="301.9" y="435" font-size="7.0" text-anchor="middle" font-weight="bold" fill="#000" stroke="#000" stroke-width="0.4" >0.1</text>
<line x1="333.98" y1="421.8" x2="333.98" y2="425.6" stroke="#000" stroke-width="1.5" />
<text x="334.48" y="435" font-size="7.0" text-anchor="middle" font-weight="bold" fill="#000" stroke="#000" stroke-width="0.4" >1</text>
<line x1="366.56" y1="421.8" x2="366.56" y2="425.6" stroke="#000" stroke-width="1.5" />
<text x="367.06" y="435" font-size="7.0" text-anchor="middle" font-weight="bold" fill="#000" stroke="#000" stroke-width="0.4" >10</text>
<line x1="399.14" y1="421.8" x2="399.14" y2="425.6" stroke="#000" stroke-width="1.5" />
<text x="399.64" y="435" font-size="7.0" text-anchor="middle" font-weight="bold" fill="#000" stroke="#000" stroke-width="0.4" >100</text>
<line x1="431.72" y1="421.8" x2="431.72" y2="425.6" stroke="#000" stroke-width="1.5" />
<text x="432.22" y="435" font-size="7.0" text-anchor="middle" font-weight="bold" fill="#000" stroke="#000" stroke-width="0.4" >1000</text>
<line x1="464.3" y1="421.8" x2="464.3" y2="425.6" stroke="#000" stroke-width="1.5" />
<text x="464.8" y="435" font-size="7.0" text-anchor="middle" font-weight="bold" fill="#000" stroke="#000" stroke-width="0.4" >10000</text>
<text x="382.2" y="446.3" font-size="8.0" text-anchor="middle" font-weight="bold" fill="#000" stroke="#000" stroke-width="0.4" >ng/mL</text>
<text transform="translate(277.8,351.7) rotate(-90)" font-size="8.0" text-anchor="middle" font-weight="bold" stroke="#000" stroke-width="0.4">% Proliferation</text>
<polyline points="314.6,311.4 360,311.4 400,311.7 430,312.4 454.2,313.8" fill="none" stroke="#000" stroke-width="1.5" stroke-linejoin="round" />
<polyline points="314.59,329.68 316.36,329.73 318.13,329.78 319.9,329.83 321.67,329.9 323.45,329.97 325.22,330.05 326.99,330.14 328.76,330.25 330.53,330.37 332.3,330.51 334.07,330.66 335.84,330.83 337.61,331.03 339.38,331.25 341.15,331.5 342.93,331.79 344.7,332.11 346.47,332.47 348.24,332.87 350.01,333.33 351.78,333.84 353.55,334.41 355.32,335.05 357.09,335.76 358.86,336.55 360.63,337.43 362.41,338.41 364.18,339.48 365.95,340.67 367.72,341.96 369.49,343.37 371.26,344.91 373.03,346.56 374.8,348.35 376.57,350.25 378.34,352.27 380.11,354.4 381.89,356.63 383.66,358.95 385.43,361.34 387.2,363.79 388.97,366.28 390.74,368.79 392.51,371.3 394.28,373.79 396.05,376.23 397.82,378.62 399.59,380.93 401.37,383.15 403.14,385.27 404.91,387.27 406.68,389.16 408.45,390.92 410.22,392.57 411.99,394.09 413.76,395.49 415.53,396.77 417.3,397.94 419.07,399 420.85,399.96 422.62,400.83 424.39,401.62 426.16,402.32 427.93,402.95 429.7,403.52 431.47,404.02 433.24,404.47 435.01,404.87 436.78,405.22 438.55,405.54 440.33,405.82 442.1,406.07 443.87,406.28 445.64,406.48 447.41,406.65 449.18,406.8 450.95,406.94 452.72,407.05 454.49,407.16" fill="none" stroke="#000" stroke-width="1.5" stroke-linejoin="round" />
<line x1="314.5" y1="304.9" x2="314.5" y2="314.6" stroke="#000" stroke-width="1.15" />
<line x1="311.6" y1="304.9" x2="317.4" y2="304.9" stroke="#000" stroke-width="1.15" />
<line x1="311.6" y1="314.6" x2="317.4" y2="314.6" stroke="#000" stroke-width="1.15" />
<line x1="330.5" y1="310" x2="330.5" y2="346.2" stroke="#000" stroke-width="1.15" />
<line x1="327.6" y1="310" x2="333.4" y2="310" stroke="#000" stroke-width="1.15" />
<line x1="327.6" y1="346.2" x2="333.4" y2="346.2" stroke="#000" stroke-width="1.15" />
<line x1="345.5" y1="302.8" x2="345.5" y2="313.8" stroke="#000" stroke-width="1.15" />
<line x1="342.6" y1="302.8" x2="348.4" y2="302.8" stroke="#000" stroke-width="1.15" />
<line x1="342.6" y1="313.8" x2="348.4" y2="313.8" stroke="#000" stroke-width="1.15" />
<line x1="345.5" y1="318.5" x2="345.5" y2="324" stroke="#000" stroke-width="1.15" />
<line x1="342.6" y1="318.5" x2="348.4" y2="318.5" stroke="#000" stroke-width="1.15" />
<line x1="342.6" y1="324" x2="348.4" y2="324" stroke="#000" stroke-width="1.15" />
<line x1="361.5" y1="297.7" x2="361.5" y2="314.6" stroke="#000" stroke-width="1.15" />
<line x1="358.6" y1="297.7" x2="364.4" y2="297.7" stroke="#000" stroke-width="1.15" />
<line x1="358.6" y1="314.6" x2="364.4" y2="314.6" stroke="#000" stroke-width="1.15" />
<line x1="361.5" y1="334" x2="361.5" y2="340" stroke="#000" stroke-width="1.15" />
<line x1="358.6" y1="334" x2="364.4" y2="334" stroke="#000" stroke-width="1.15" />
<line x1="358.6" y1="340" x2="364.4" y2="340" stroke="#000" stroke-width="1.15" />
<line x1="376.5" y1="303.8" x2="376.5" y2="310.2" stroke="#000" stroke-width="1.15" />
<line x1="373.6" y1="303.8" x2="379.4" y2="303.8" stroke="#000" stroke-width="1.15" />
<line x1="373.6" y1="310.2" x2="379.4" y2="310.2" stroke="#000" stroke-width="1.15" />
<line x1="376.5" y1="347.5" x2="376.5" y2="352" stroke="#000" stroke-width="1.15" />
<line x1="373.6" y1="347.5" x2="379.4" y2="347.5" stroke="#000" stroke-width="1.15" />
<line x1="373.6" y1="352" x2="379.4" y2="352" stroke="#000" stroke-width="1.15" />
<line x1="392.5" y1="316.9" x2="392.5" y2="326.2" stroke="#000" stroke-width="1.15" />
<line x1="389.6" y1="316.9" x2="395.4" y2="316.9" stroke="#000" stroke-width="1.15" />
<line x1="389.6" y1="326.2" x2="395.4" y2="326.2" stroke="#000" stroke-width="1.15" />
<line x1="392.5" y1="362.2" x2="392.5" y2="379.1" stroke="#000" stroke-width="1.15" />
<line x1="389.6" y1="362.2" x2="395.4" y2="362.2" stroke="#000" stroke-width="1.15" />
<line x1="389.6" y1="379.1" x2="395.4" y2="379.1" stroke="#000" stroke-width="1.15" />
<line x1="407.5" y1="300" x2="407.5" y2="316.9" stroke="#000" stroke-width="1.15" />
<line x1="404.6" y1="300" x2="410.4" y2="300" stroke="#000" stroke-width="1.15" />
<line x1="404.6" y1="316.9" x2="410.4" y2="316.9" stroke="#000" stroke-width="1.15" />
<line x1="423.5" y1="391.4" x2="423.5" y2="396" stroke="#000" stroke-width="1.15" />
<line x1="420.6" y1="391.4" x2="426.4" y2="391.4" stroke="#000" stroke-width="1.15" />
<line x1="420.6" y1="396" x2="426.4" y2="396" stroke="#000" stroke-width="1.15" />
<line x1="438.5" y1="316" x2="438.5" y2="325.2" stroke="#000" stroke-width="1.15" />
<line x1="435.6" y1="316" x2="441.4" y2="316" stroke="#000" stroke-width="1.15" />
<line x1="435.6" y1="325.2" x2="441.4" y2="325.2" stroke="#000" stroke-width="1.15" />
<line x1="438.5" y1="402.1" x2="438.5" y2="408" stroke="#000" stroke-width="1.15" />
<line x1="435.6" y1="402.1" x2="441.4" y2="402.1" stroke="#000" stroke-width="1.15" />
<line x1="435.6" y1="408" x2="441.4" y2="408" stroke="#000" stroke-width="1.15" />
<line x1="454.5" y1="299.2" x2="454.5" y2="326.5" stroke="#000" stroke-width="1.15" />
<line x1="451.6" y1="299.2" x2="457.4" y2="299.2" stroke="#000" stroke-width="1.15" />
<line x1="451.6" y1="326.5" x2="457.4" y2="326.5" stroke="#000" stroke-width="1.15" />
<polygon points="312.2,311.45 317,311.45 314.6,306.95" fill="#fff" stroke="#000" stroke-width="1.25" stroke-linejoin="miter"/>
<polygon points="327.6,333.25 332.4,333.25 330,328.75" fill="#fff" stroke="#000" stroke-width="1.25" stroke-linejoin="miter"/>
<polygon points="343,310.75 347.8,310.75 345.4,306.25" fill="#fff" stroke="#000" stroke-width="1.25" stroke-linejoin="miter"/>
<polygon points="359.1,308.45 363.9,308.45 361.5,303.95" fill="#fff" stroke="#000" stroke-width="1.25" stroke-linejoin="miter"/>
<polygon points="374.3,309.15 379.1,309.15 376.7,304.65" fill="#fff" stroke="#000" stroke-width="1.25" stroke-linejoin="miter"/>
<polygon points="390.1,323.45 394.9,323.45 392.5,318.95" fill="#fff" stroke="#000" stroke-width="1.25" stroke-linejoin="miter"/>
<polygon points="405.5,311.45 410.3,311.45 407.9,306.95" fill="#fff" stroke="#000" stroke-width="1.25" stroke-linejoin="miter"/>
<polygon points="436.4,322.65 441.2,322.65 438.8,318.15" fill="#fff" stroke="#000" stroke-width="1.25" stroke-linejoin="miter"/>
<polygon points="451.8,315.75 456.6,315.75 454.2,311.25" fill="#fff" stroke="#000" stroke-width="1.25" stroke-linejoin="miter"/>
<polygon points="311.6,339.8 317.6,339.8 314.6,334.2" fill="#000"/>
<polygon points="327,336.8 333,336.8 330,331.2" fill="#000"/>
<polygon points="342.4,325.1 348.4,325.1 345.4,319.5" fill="#000"/>
<polygon points="358.5,339.8 364.5,339.8 361.5,334.2" fill="#000"/>
<polygon points="373.8,353.3 379.8,353.3 376.8,347.7" fill="#000"/>
<polygon points="389.4,373.7 395.4,373.7 392.4,368.1" fill="#000"/>
<polygon points="405,394.2 411,394.2 408,388.6" fill="#000"/>
<polygon points="420.3,396.7 426.3,396.7 423.3,391.1" fill="#000"/>
<polygon points="435.6,409.2 441.6,409.2 438.6,403.6" fill="#000"/>
<polygon points="451.2,412.7 457.2,412.7 454.2,407.1" fill="#000"/>
<polygon points="420.5,304.2 426.5,304.2 423.5,298.6" fill="#000"/>
<text transform="translate(313.5,391.9) scale(0.93,1)" font-size="8.6" text-anchor="start" font-weight="bold" fill="#000" stroke="#000" stroke-width="0.4" >RCC2M</text>
<polygon points="306.9,404.6 312.9,404.6 309.9,399" fill="#000"/>
<text x="317.7" y="404.1" font-size="7.1" text-anchor="start" font-weight="bold" fill="#000" stroke="#000" stroke-width="0.4" >h1F6-mcMMAF(4)</text>
<polygon points="307.5,416.45 312.3,416.45 309.9,411.95" fill="#fff" stroke="#000" stroke-width="1.25" stroke-linejoin="miter"/>
<text x="317.7" y="416.6" font-size="7.1" text-anchor="start" font-weight="bold" fill="#000" stroke="#000" stroke-width="0.4" >IgG-mcMMAF(4)</text>
</svg>
</body></html>
